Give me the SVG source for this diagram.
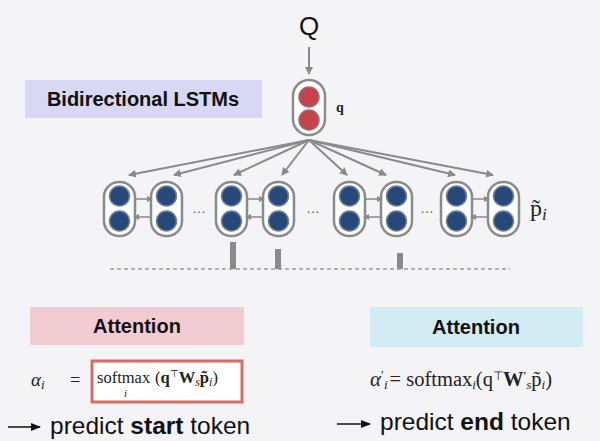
<svg xmlns="http://www.w3.org/2000/svg" width="600" height="441" viewBox="0 0 600 441">
<defs>
<style>
.cell{fill:#fff;stroke:#8a8a8a;stroke-width:2.5}
.b{fill:#27497a;stroke:#6d7f99;stroke-width:1.5}
.r{fill:#c8424a;stroke:#9a6a6e;stroke-width:1.5}
.ln{stroke:#8a8a8a;stroke-width:2;fill:none}
.math{font-family:"Liberation Serif",serif;fill:#222}
.sans{font-family:"Liberation Sans",Arial,sans-serif;fill:#111}
</style>
<marker id="ah" markerWidth="8" markerHeight="8" refX="7" refY="4" orient="auto" markerUnits="userSpaceOnUse"><path d="M0,0L8,4L0,8z" fill="#8a8a8a"/></marker>
<marker id="sa" markerWidth="6" markerHeight="6" refX="5" refY="3" orient="auto" markerUnits="userSpaceOnUse"><path d="M0,0L6,3L0,6z" fill="#8a8a8a"/></marker>
<marker id="ka" markerWidth="10" markerHeight="8" refX="9" refY="4" orient="auto" markerUnits="userSpaceOnUse"><path d="M0,0L10,4L0,8z" fill="#111"/></marker>
</defs>
<rect width="600" height="441" fill="#f4f4f6"/>
<g id="label-bilstm"><rect x="25" y="80" width="237" height="38" fill="#d8d8f4"/><text x="143" y="106" class="sans" font-size="20" font-weight="bold" text-anchor="middle">Bidirectional LSTMs</text></g>
<g id="Q"><text x="309" y="35" class="sans" font-size="26" text-anchor="middle">Q</text></g>
<g id="qnode"><rect x="293" y="80" width="32" height="55" rx="16" class="cell"/><circle cx="309" cy="97" r="10" class="r"/><circle cx="309" cy="120" r="10" class="r"/><text x="336" y="112" class="math" font-size="14" font-weight="bold">q</text></g>
<g id="cells">
<g id="c1"><rect x="104" y="182" width="31" height="54" rx="15" class="cell"/><circle cx="119.5" cy="196" r="10" class="b"/><circle cx="119.5" cy="221" r="10" class="b"/></g>
<g id="c2"><rect x="151" y="182" width="31" height="54" rx="15" class="cell"/><circle cx="166.5" cy="196" r="10" class="b"/><circle cx="166.5" cy="221" r="10" class="b"/></g>
<g id="c3"><rect x="216" y="182" width="31" height="54" rx="15" class="cell"/><circle cx="231.5" cy="196" r="10" class="b"/><circle cx="231.5" cy="221" r="10" class="b"/></g>
<g id="c4"><rect x="263" y="182" width="31" height="54" rx="15" class="cell"/><circle cx="278.5" cy="196" r="10" class="b"/><circle cx="278.5" cy="221" r="10" class="b"/></g>
<g id="c5"><rect x="334" y="182" width="31" height="54" rx="15" class="cell"/><circle cx="349.5" cy="196" r="10" class="b"/><circle cx="349.5" cy="221" r="10" class="b"/></g>
<g id="c6"><rect x="381" y="182" width="31" height="54" rx="15" class="cell"/><circle cx="396.5" cy="196" r="10" class="b"/><circle cx="396.5" cy="221" r="10" class="b"/></g>
<g id="c7"><rect x="441" y="182" width="31" height="54" rx="15" class="cell"/><circle cx="456.5" cy="196" r="10" class="b"/><circle cx="456.5" cy="221" r="10" class="b"/></g>
<g id="c8"><rect x="488" y="182" width="31" height="54" rx="15" class="cell"/><circle cx="503.5" cy="196" r="10" class="b"/><circle cx="503.5" cy="221" r="10" class="b"/></g>
</g>
<g id="dots" class="sans" font-size="14"><text x="199" y="213" text-anchor="middle" fill="#555">…</text><text x="313" y="213" text-anchor="middle" fill="#555">…</text><text x="427" y="213" text-anchor="middle" fill="#555">…</text></g>
<g id="connectors">
<line x1="309" y1="47" x2="309" y2="74" class="ln" marker-end="url(#ah)"/>
<line x1="309" y1="140" x2="129" y2="175" class="ln" marker-end="url(#ah)"/>
<line x1="309" y1="140" x2="174" y2="175" class="ln" marker-end="url(#ah)"/>
<line x1="309" y1="140" x2="234" y2="175" class="ln" marker-end="url(#ah)"/>
<line x1="309" y1="140" x2="282" y2="175" class="ln" marker-end="url(#ah)"/>
<line x1="309" y1="140" x2="347" y2="175" class="ln" marker-end="url(#ah)"/>
<line x1="309" y1="140" x2="386" y2="175" class="ln" marker-end="url(#ah)"/>
<line x1="309" y1="140" x2="455" y2="175" class="ln" marker-end="url(#ah)"/>
<line x1="309" y1="140" x2="493" y2="175" class="ln" marker-end="url(#ah)"/>
<g stroke="#8a8a8a" stroke-width="1.5">
<line x1="134" y1="199" x2="152" y2="199" marker-end="url(#sa)"/><line x1="152" y1="217" x2="134" y2="217" marker-end="url(#sa)"/>
<line x1="246" y1="199" x2="264" y2="199" marker-end="url(#sa)"/><line x1="264" y1="217" x2="246" y2="217" marker-end="url(#sa)"/>
<line x1="364" y1="199" x2="382" y2="199" marker-end="url(#sa)"/><line x1="382" y1="217" x2="364" y2="217" marker-end="url(#sa)"/>
<line x1="471" y1="199" x2="489" y2="199" marker-end="url(#sa)"/><line x1="489" y1="217" x2="471" y2="217" marker-end="url(#sa)"/>
</g>
</g>
<g id="ptilde"><text x="530" y="216" class="math" font-size="24">p̃<tspan font-style="italic" font-size="17" dy="4">i</tspan></text></g>
<g id="bars" fill="#8a8a8a"><rect x="230" y="242" width="6" height="27"/><rect x="275" y="249" width="6" height="20"/><rect x="397" y="253" width="6" height="16"/></g>
<line x1="110" y1="269" x2="510" y2="269" stroke="#9a9a9a" stroke-width="1.5" stroke-dasharray="4,3"/>
<g id="att1"><rect x="30" y="307" width="214" height="38" fill="#f1cdd3"/><text x="137" y="333" class="sans" font-size="20" font-weight="bold" text-anchor="middle">Attention</text></g>
<g id="att2"><rect x="370" y="307" width="213" height="40" fill="#d3ecf4"/><text x="476" y="334" class="sans" font-size="20" font-weight="bold" text-anchor="middle">Attention</text></g>
<g id="f1">
<text x="31" y="386" class="math" font-style="italic" font-size="19">α<tspan font-size="13" dy="3">i</tspan></text>
<text x="70" y="386" class="math" font-size="18">=</text>
<rect x="92" y="361" width="150" height="41" fill="#fff" stroke="#d96a64" stroke-width="3"/>
<text x="97" y="383" class="math" font-size="16.5">softmax</text>
<text x="124" y="397" class="math" font-size="11" font-style="italic">i</text>
<text x="155" y="383" class="math" font-size="16.5">(<tspan font-weight="bold">q</tspan><tspan font-size="10" dy="-6">⊤</tspan><tspan font-weight="bold" dy="6">W</tspan><tspan font-style="italic" font-size="12" dy="3">s</tspan><tspan font-weight="bold" dy="-3">p̃</tspan><tspan font-style="italic" font-size="12" dy="3">i</tspan><tspan dy="-3">)</tspan></text>
</g>
<g id="f2"><text x="370" y="386" class="math" font-size="20.5"><tspan font-style="italic" font-size="21">α</tspan><tspan font-size="13" dy="-7">′</tspan><tspan font-style="italic" font-size="13" dy="10">i</tspan><tspan dy="-3" dx="2">= softmax</tspan><tspan font-style="italic" font-size="13" dy="3">i</tspan><tspan dy="-3">(q</tspan><tspan font-size="12" dy="-6">⊤</tspan><tspan font-weight="bold" dy="6">W</tspan><tspan font-size="13" dy="-6">′</tspan><tspan font-style="italic" font-size="13" dy="9">s</tspan><tspan dy="-3">p̃</tspan><tspan font-style="italic" font-size="13" dy="3">i</tspan><tspan dy="-3">)</tspan></text></g>
<g id="pred1"><line x1="8" y1="427" x2="40" y2="427" stroke="#111" stroke-width="1.5" marker-end="url(#ka)"/><text x="50" y="434" class="sans" font-size="24.5">predict <tspan font-weight="bold">start</tspan> token</text></g>
<g id="pred2"><line x1="337" y1="424" x2="370" y2="424" stroke="#111" stroke-width="1.5" marker-end="url(#ka)"/><text x="380" y="430" class="sans" font-size="24.5">predict <tspan font-weight="bold">end</tspan> token</text></g>
</svg>
